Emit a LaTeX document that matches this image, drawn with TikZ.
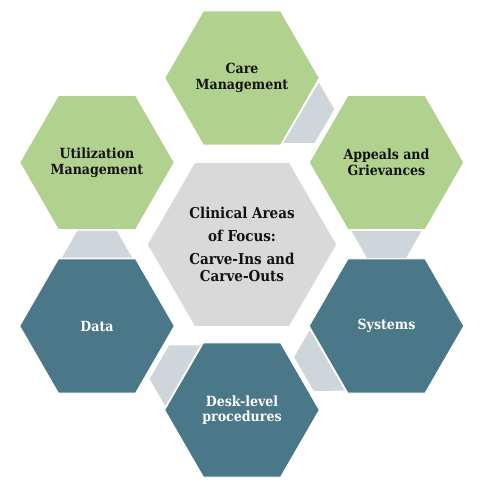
\documentclass[tikz,border=0pt]{standalone}
\usepackage{fontspec}
\setmainfont{DejaVu Serif Condensed}
\usetikzlibrary{shapes.geometric,calc}
\definecolor{hexgreen}{HTML}{B1D18F}
\definecolor{hexteal}{HTML}{4A7889}
\definecolor{hexgray}{HTML}{D9D9D9}
\definecolor{linkgray}{HTML}{CED6DB}
\definecolor{txtdark}{HTML}{111111}
\tikzset{
  hexbase/.style={regular polygon, regular polygon sides=6, inner sep=0pt, outer sep=0pt,
    draw=white, line width=1.2pt, align=center, font=\bfseries\fontsize{14}{15.5}\selectfont},
  outerhex/.style={hexbase, minimum size=155pt},
  greenhex/.style={outerhex, fill=hexgreen, text=txtdark},
  tealhex/.style={outerhex, fill=hexteal, text=white},
  centerhex/.style={hexbase, minimum size=190pt, fill=hexgray, text=txtdark,
    font=\bfseries\fontsize{15}{17.5}\selectfont},
  linkfill/.style={fill=linkgray}
}
\newcommand\hexlink[2]{%
  \fill[linkfill] ($(#1)!68.5pt!(#2)!35pt!90:(#2)$) -- ($(#1)!68.5pt!(#2)!35pt!-90:(#2)$)
    -- ($(#1)!95.5pt!(#2)!19.5pt!-90:(#2)$) -- ($(#1)!95.5pt!(#2)!19.5pt!90:(#2)$) -- cycle;}
\begin{document}
\begin{tikzpicture}[x=1pt,y=-1pt]
\useasboundingbox (0,0) rectangle (488,491);
\coordinate (pCare) at (242,78);
\coordinate (pApp) at (386.5,162.5);
\coordinate (pSys) at (386.5,326);
\coordinate (pDesk) at (242,410);
\coordinate (pData) at (97,326);
\coordinate (pUtil) at (97,162.5);
\hexlink{pCare}{pApp}
\hexlink{pApp}{pSys}
\hexlink{pSys}{pDesk}
\hexlink{pDesk}{pData}
\hexlink{pData}{pUtil}
\node[centerhex] (center) at (242,244.5) {Clinical Areas\\[6pt]of Focus:\\[5pt]Carve-Ins and\\Carve-Outs};
\node[greenhex] (care) at (pCare) {Care\\Management};
\node[greenhex] (app) at (pApp) {Appeals and\\Grievances};
\node[tealhex] (sys) at (pSys) {Systems};
\node[tealhex] (desk) at (pDesk) {Desk-level\\procedures};
\node[tealhex] (data) at (pData) {Data};
\node[greenhex] (util) at (pUtil) {Utilization\\Management};
\end{tikzpicture}
\end{document}
